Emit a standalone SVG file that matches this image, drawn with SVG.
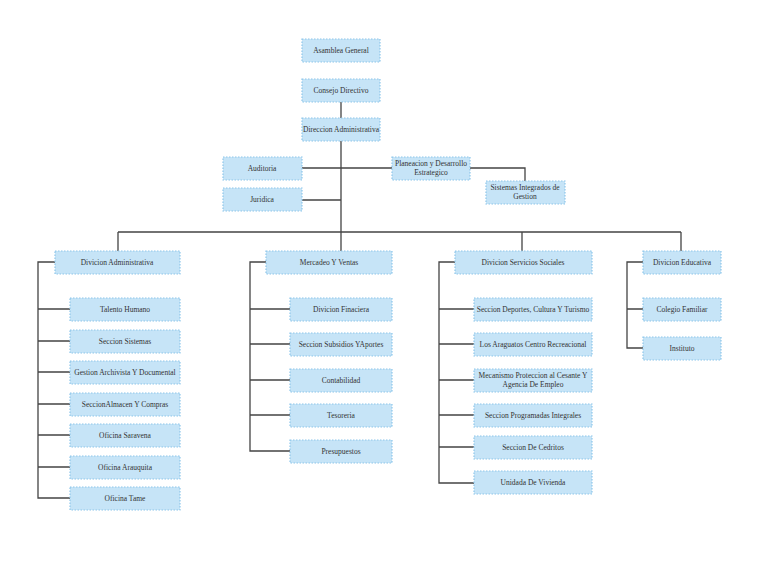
<svg xmlns="http://www.w3.org/2000/svg" width="768" height="576" viewBox="0 0 768 576">
<style>
.b{fill:#c6e4f7;stroke:#8ec6ea;stroke-width:1.2;stroke-dasharray:1.5 1.5}
.t{font-family:"Liberation Serif",serif;font-size:7.5px;fill:#333;text-anchor:middle}
.c{fill:none;stroke:#444;stroke-width:1.3}
</style>
<rect width="768" height="576" fill="#fff"/>
<g id="connectors" class="c">
<path d="M341 102V232M302 168H392M470 168H525V181M302 200H341M118 232H681M118 232V251M341 232V251M522 232V251M681 232V251"/>
<path d="M55 262H38V498H70M38 309H70M38 341H70M38 372H70M38 404H70M38 435H70M38 467H70"/>
<path d="M266 262H250V451H290M250 309H290M250 344H290M250 380H290M250 415H290"/>
<path d="M455 262H439V483H474M439 309H474M439 344H474M439 380H474M439 415H474M439 447H474"/>
<path d="M643 262H627V348H643M627 309H643"/>
</g>
<g id="n1"><rect class="b" x="302" y="39" width="78" height="23"/><text class="t" x="341" y="53">Asamblea General</text></g>
<g id="n2"><rect class="b" x="302" y="79" width="78" height="23"/><text class="t" x="341" y="93">Consejo Directivo</text></g>
<g id="n3"><rect class="b" x="302" y="118" width="78" height="23"/><text class="t" x="341" y="132">Direccion Administrativa</text></g>
<g id="n4"><rect class="b" x="223" y="157" width="79" height="23"/><text class="t" x="262" y="171">Auditoria</text></g>
<g id="n5"><rect class="b" x="223" y="188" width="79" height="23"/><text class="t" x="262" y="202">Juridica</text></g>
<g id="n6"><rect class="b" x="392" y="157" width="78" height="23"/><text class="t" x="431" y="166">Planeacion y Desarrollo</text><text class="t" x="431" y="175">Estrategico</text></g>
<g id="n7"><rect class="b" x="486" y="181" width="79" height="23"/><text class="t" x="525" y="190">Sistemas Integrados de</text><text class="t" x="525" y="199">Gestion</text></g>
<g id="d1"><rect class="b" x="55" y="251" width="125" height="23"/><text class="t" x="117" y="265">Divicion Administrativa</text></g>
<g id="d2"><rect class="b" x="266" y="251" width="126" height="23"/><text class="t" x="329" y="265">Mercadeo Y Ventas</text></g>
<g id="d3"><rect class="b" x="455" y="251" width="137" height="23"/><text class="t" x="523" y="265">Divicion Servicios Sociales</text></g>
<g id="d4"><rect class="b" x="643" y="251" width="78" height="23"/><text class="t" x="682" y="265">Divicion Educativa</text></g>
<g id="a1"><rect class="b" x="70" y="298" width="110" height="23"/><text class="t" x="125" y="312">Talento Humano</text></g>
<g id="a2"><rect class="b" x="70" y="330" width="110" height="23"/><text class="t" x="125" y="344">Seccion Sistemas</text></g>
<g id="a3"><rect class="b" x="70" y="361" width="110" height="23"/><text class="t" x="125" y="375">Gestion Archivista Y Documental</text></g>
<g id="a4"><rect class="b" x="70" y="393" width="110" height="23"/><text class="t" x="125" y="407">SeccionAlmacen Y Compras</text></g>
<g id="a5"><rect class="b" x="70" y="424" width="110" height="23"/><text class="t" x="125" y="438">Oficina Saravena</text></g>
<g id="a6"><rect class="b" x="70" y="456" width="110" height="23"/><text class="t" x="125" y="470">Oficina Arauquita</text></g>
<g id="a7"><rect class="b" x="70" y="487" width="110" height="23"/><text class="t" x="125" y="501">Oficina Tame</text></g>
<g id="m1"><rect class="b" x="290" y="298" width="102" height="23"/><text class="t" x="341" y="312">Divicion Finaciera</text></g>
<g id="m2"><rect class="b" x="290" y="333" width="102" height="23"/><text class="t" x="341" y="347">Seccion Subsidios YAportes</text></g>
<g id="m3"><rect class="b" x="290" y="369" width="102" height="23"/><text class="t" x="341" y="383">Contabilidad</text></g>
<g id="m4"><rect class="b" x="290" y="404" width="102" height="23"/><text class="t" x="341" y="418">Tesoreria</text></g>
<g id="m5"><rect class="b" x="290" y="440" width="102" height="23"/><text class="t" x="341" y="454">Presupuestos</text></g>
<g id="s1"><rect class="b" x="474" y="298" width="118" height="23"/><text class="t" x="533" y="312">Seccion Deportes, Cultura Y Turismo</text></g>
<g id="s2"><rect class="b" x="474" y="333" width="118" height="23"/><text class="t" x="533" y="347">Los Araguatos Centro Recreacional</text></g>
<g id="s3"><rect class="b" x="474" y="369" width="118" height="23"/><text class="t" x="533" y="378">Mecanismo Proteccion  al Cesante Y</text><text class="t" x="533" y="387">Agencia De Empleo</text></g>
<g id="s4"><rect class="b" x="474" y="404" width="118" height="23"/><text class="t" x="533" y="418">Seccion Programadas Integrales</text></g>
<g id="s5"><rect class="b" x="474" y="436" width="118" height="23"/><text class="t" x="533" y="450">Seccion De Cedritos</text></g>
<g id="s6"><rect class="b" x="474" y="471" width="118" height="23"/><text class="t" x="533" y="485">Unidada De Vivienda</text></g>
<g id="e1"><rect class="b" x="643" y="298" width="78" height="23"/><text class="t" x="682" y="312">Colegio Familiar</text></g>
<g id="e2"><rect class="b" x="643" y="337" width="78" height="23"/><text class="t" x="682" y="351">Instituto</text></g>
</svg>
